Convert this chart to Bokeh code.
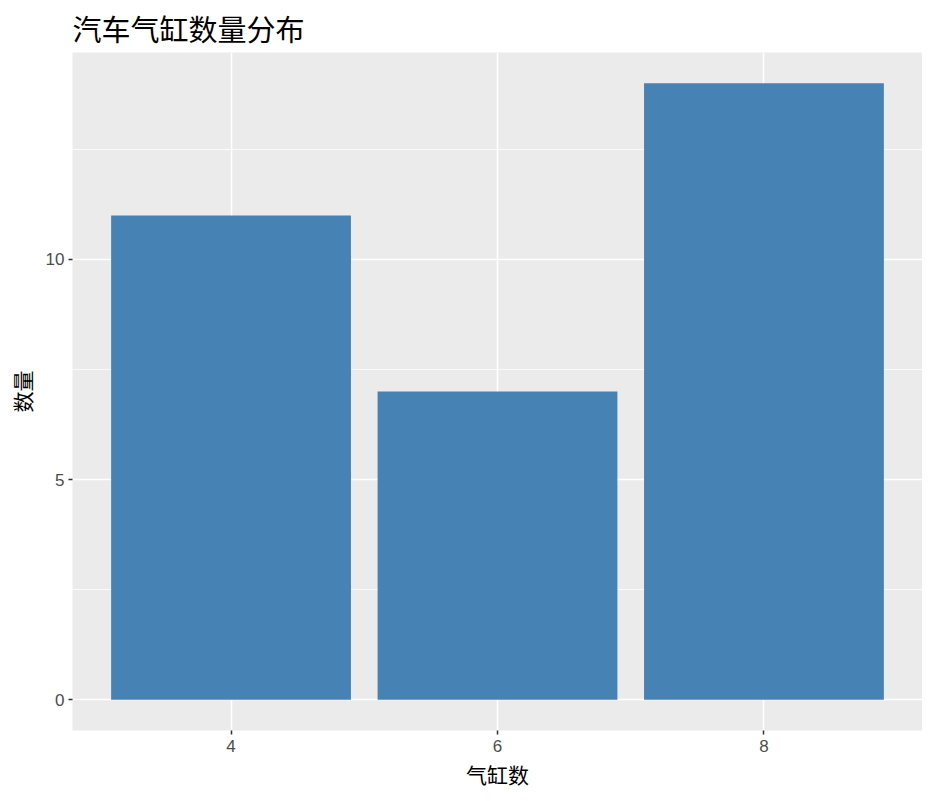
from bokeh.plotting import figure
from bokeh.models import FixedTicker, Range1d
from bokeh.embed import file_html
from bokeh.resources import INLINE

cyl = [4, 6, 8]
counts = [11, 7, 14]
y_ticks = [0, 5, 10]
y_minor = [2.5, 7.5, 12.5]
title_text = "汽车气缸数量分布"

p = figure(width=922, height=785, output_backend="svg", toolbar_location=None,
           x_range=Range1d(2.81, 9.19), y_range=Range1d(-0.7, 14.7),
           min_border_left=72, min_border_right=0, min_border_top=52, min_border_bottom=55,
           frame_width=850, frame_height=678)

p.vbar(x=cyl, top=counts, width=1.8, bottom=0, fill_color="#4682B4", line_color=None)

p.background_fill_color = "#EBEBEB"
p.border_fill_color = "white"
p.outline_line_color = None

p.xaxis.ticker = FixedTicker(ticks=cyl)
p.yaxis.ticker = FixedTicker(ticks=y_ticks, minor_ticks=y_minor)
p.xgrid.grid_line_color = "white"
p.xgrid.grid_line_width = 1.5
p.ygrid.grid_line_color = "white"
p.ygrid.grid_line_width = 1.5
p.ygrid.minor_grid_line_color = "white"
p.ygrid.minor_grid_line_width = 0.75

for ax in (p.xaxis, p.yaxis):
    ax.axis_line_color = None
    ax.major_tick_line_color = "#333333"
    ax.major_tick_line_width = 1.5
    ax.major_tick_out = 4
    ax.major_tick_in = 0
    ax.minor_tick_line_color = None
    ax.major_label_text_font = "Liberation Sans"
    ax.major_label_text_font_size = "17px"
    ax.major_label_text_color = "#4D4D4D"
    ax.axis_label_text_font = "Noto Sans CJK SC"
    ax.axis_label_text_font_size = "21px"
    ax.axis_label_text_font_style = "normal"
    ax.axis_label_text_color = "black"

p.xaxis.axis_label = "气缸数"
p.yaxis.axis_label = "数量"
p.xaxis.major_label_standoff = 5
p.yaxis.major_label_standoff = 4
p.xaxis.axis_label_standoff = 4
p.yaxis.axis_label_standoff = 6

p.title.text = title_text
p.title.text_font = "Noto Sans CJK SC"
p.title.text_font_size = "29px"
p.title.text_font_style = "normal"
p.title.text_color = "black"
p.title.align = "left"
p.title.standoff = 7

open("out.html", "w").write(file_html(p, INLINE))
